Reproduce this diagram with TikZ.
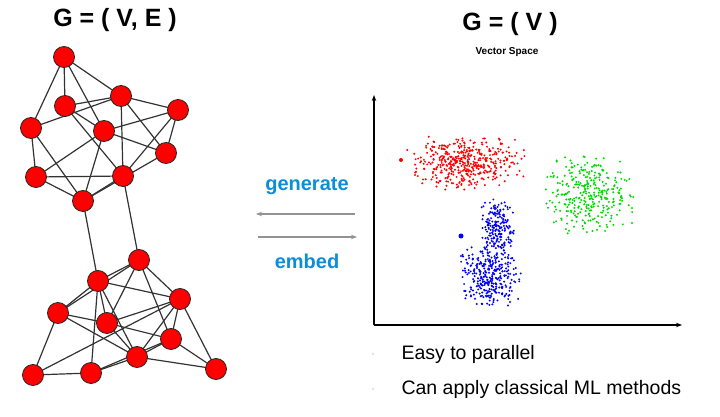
\documentclass[tikz,border=0pt]{standalone}
\usepackage{fontspec}
\setmainfont{Liberation Sans}
\usetikzlibrary{arrows.meta}
\begin{document}
\begin{tikzpicture}[x=1pt,y=-1pt,
  v/.style={circle,fill=red,draw=black!85,line width=0.8pt,minimum size=21pt,inner sep=0pt},
  e/.style={draw=black!80,line width=1.2pt},
  lbl/.style={font=\bfseries\fontsize{20}{24}\selectfont,text=cyan!75!blue},
  ar/.style={draw=gray!85,line width=1.2pt,-{Stealth[length=6pt]}}]
\useasboundingbox (0,0) rectangle (720,417);
\node[font=\bfseries\fontsize{25}{28}\selectfont] (t1) at (115,20) {G = ( V, E )};
\node[font=\bfseries\fontsize{25}{28}\selectfont] (t2) at (510,24) {G = ( V )};
\node[font=\bfseries\fontsize{10}{12}\selectfont] (t3) at (507,52) {Vector Space};
\foreach \n/\x/\y in {a1/64/57,a2/65/106,a3/121/96,a4/178/110,a5/31/128,a6/104/131,a7/166/153,a8/36/177,a9/123/176,a10/83/201,
 b1/139/260,b2/98/281,b3/180/299,b4/58/313,b5/107/323,b6/171/339,b7/137/357,b8/33/375,b9/91/373,b10/216/369}
  \coordinate (\n) at (\x,\y);
\foreach \p/\q in {a1/a2,a1/a5,a1/a6,a1/a3,a2/a3,a2/a6,a2/a9,a5/a3,a3/a4,a3/a9,a3/a7,a6/a4,a6/a7,a6/a8,a6/a10,a4/a9,a4/a7,a5/a8,a5/a10,a8/a9,a8/a10,a9/a10,a7/a10,
 a10/b2,a9/b1,b1/b2,b1/b4,b1/b5,b1/b6,b1/b3,b2/b3,b2/b4,b2/b5,b2/b7,b2/b9,b4/b5,b4/b7,b4/b8,b5/b3,b5/b6,b5/b7,b3/b6,b3/b7,b3/b10,b6/b7,b6/b9,b6/b10,b7/b9,b7/b10,b8/b9,b8/b3}
  \draw[e] (\p) -- (\q);
\foreach \n in {a1,a2,a3,a4,a5,a6,a7,a8,a9,a10,b1,b2,b3,b4,b5,b6,b7,b8,b9,b10}
  \node[v] (n\n) at (\n) {};
\node[lbl] (gen) at (307,186) {generate};
\node[lbl] (emb) at (307,261) {embed};
\coordinate (l1) at (355,214); \coordinate (l2) at (256,214);
\coordinate (r1) at (258,237); \coordinate (r2) at (357,237);
\draw[ar] (l1) -- (l2);
\draw[ar] (r1) -- (r2);
\coordinate (o) at (374,325); \coordinate (yt) at (374,95); \coordinate (xt) at (682,325);
\draw[line width=1.2pt,-{Stealth[length=6pt]}] (o) -- (yt);
\draw[line width=1.2pt,-{Stealth[length=6pt]}] (o) -- (xt);
\pgfmathsetseed{7}
\foreach \i in {1,...,450}{
  \pgfmathsetmacro\u{rnd+rnd-1}\pgfmathsetmacro\w{rnd+rnd-1}
  \fill[red] ({465+62*\u},{163+28*\w}) circle (1.1);}
\foreach \i in {1,...,320}{
  \pgfmathsetmacro\u{rnd+rnd-1}\pgfmathsetmacro\w{rnd+rnd-1}
  \fill[green!85!black] ({590+48*\u},{195+42*\w}) circle (1.1);}
\foreach \i in {1,...,200}{
  \pgfmathsetmacro\u{rnd+rnd-1}\pgfmathsetmacro\w{rnd+rnd-1}
  \fill[blue] ({498+18*\u},{228+32*\w}) circle (1.1);}
\foreach \i in {1,...,320}{
  \pgfmathsetmacro\u{rnd+rnd-1}\pgfmathsetmacro\w{rnd+rnd-1}
  \fill[blue] ({490+32*\u},{276+34*\w}) circle (1.1);}
\fill[blue] (461,236) circle (2.5);
\fill[red] (401,160) circle (2);
\fill[gray!30] (373,354) circle (1.2);
\fill[gray!30] (373,389) circle (1.2);
\node[anchor=west,font=\fontsize{19.5}{22}\selectfont] (bt1) at (398,354) {Easy to parallel};
\node[anchor=west,font=\fontsize{19.5}{22}\selectfont] (bt2) at (398,389) {Can apply classical ML methods};
\end{tikzpicture}
\end{document}
